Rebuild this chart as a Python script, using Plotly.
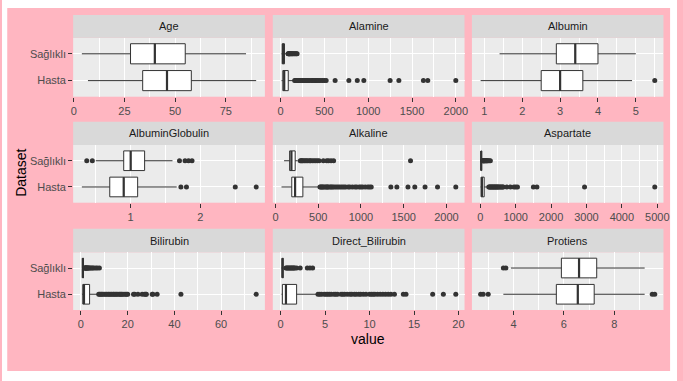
import plotly.graph_objects as go

# ---------------- data ----------------
facets = ["Age", "Alamine", "Albumin", "AlbuminGlobulin", "Alkaline",
          "Aspartate", "Bilirubin", "Direct_Bilirubin", "Protiens"]
groups = ["Hasta", "Sağlıklı"]
group_pos = [1, 2]

# Hasta box statistics, one value per facet
hasta_lower = [7, 10, 0.9, 0.3, 70, 10, 0.4, 0.1, 3.6]
hasta_q1 = [34, 25, 2.5, 0.7, 190, 26, 0.8, 0.2, 5.7]
hasta_median = [46, 41, 3.0, 0.9, 229, 45, 1.3, 0.6, 6.55]
hasta_q3 = [58, 87, 3.6, 1.1, 320, 110, 3.7, 1.8, 7.2]
hasta_upper = [90, 150, 4.9, 1.66, 510, 230, 7.3, 4.0, 9.2]

# Sağlıklı box statistics, one value per facet
saglikli_lower = [4, 10, 1.4, 0.5, 100, 10, 0.5, 0.1, 3.9]
saglikli_q1 = [28, 19, 2.9, 0.9, 165, 20, 0.7, 0.2, 5.9]
saglikli_median = [40, 27, 3.4, 1.0, 186, 26, 0.8, 0.2, 6.6]
saglikli_q3 = [55, 44, 4.0, 1.2, 230, 37, 1.1, 0.3, 7.3]
saglikli_upper = [85, 80, 5.0, 1.6, 260, 60, 1.6, 0.5, 9.2]

# outliers per facet
hasta_outliers = [
    [],
    [160, 170, 180, 190, 200, 210, 220, 230, 245, 260, 275, 290, 300, 315,
     330, 350, 365, 380, 395, 410, 425, 440, 460, 480, 500, 520,
     622, 779, 875, 950, 1250, 1350, 1630, 1680, 2000],
    [5.5],
    [1.72, 1.8, 2.5, 2.8],
    [520, 530, 540, 550, 560, 575, 590, 600, 610, 620, 640, 650, 665, 680,
     700, 720, 740, 760, 780, 800, 820, 850, 870, 900, 930, 950, 980, 1000,
     1020, 1050, 1080, 1100, 1120, 1350, 1420, 1550, 1630, 1750, 1896, 2110],
    [240, 260, 280, 300, 320, 340, 360, 380, 400, 420, 440, 460, 480, 500,
     520, 550, 575, 600, 630, 650, 750, 850, 950, 1000, 1050, 1500, 1600,
     2946, 4929],
    [7.6, 8.0, 8.5, 8.9, 9.4, 10.0, 10.6, 11.1, 11.7, 12.2, 12.7, 13.2, 13.8,
     14.2, 14.8, 15.2, 15.8, 16.4, 16.9, 17.3, 17.7, 18.4, 19.0, 19.6, 20.0,
     22.5, 23.0, 24.4, 26.2, 27.2, 27.7, 28.0, 30.5, 30.8, 32.6, 42.8, 75.0],
    [4.2, 4.4, 4.6, 4.9, 5.1, 5.3, 5.5, 5.7, 6.0, 6.2, 6.4, 6.8, 7.0, 7.2,
     7.5, 7.8, 8.0, 8.3, 8.5, 8.8, 9.0, 9.3, 9.6, 10.0, 10.2, 10.4, 10.6,
     10.9, 11.2, 11.5, 11.8, 12.1, 12.4, 12.8, 13.8, 14.1, 17.1, 18.3, 19.7],
    [2.7, 2.8, 3.0, 9.5, 9.6],
]
saglikli_outliers = [
    [],
    [85, 90, 95, 100, 105, 110, 118, 125, 132, 140, 150, 160, 170, 180, 188],
    [],
    [0.37, 0.45, 1.7, 1.78, 1.83, 1.88],
    [290, 300, 310, 320, 335, 350, 365, 380, 400, 410, 430, 450, 470, 490,
     510, 560, 600, 620, 650, 680, 1580],
    [65, 75, 85, 95, 105, 115, 125, 140, 155, 170, 185, 200, 220, 250, 285],
    [1.7, 1.8, 1.9, 2.0, 2.2, 2.4, 2.6, 2.8, 3.0, 3.3, 3.6, 4.0, 4.5, 5.0,
     5.5, 6.3, 7.0, 7.9],
    [0.6, 0.7, 0.8, 0.9, 1.0, 1.1, 1.2, 1.3, 1.4, 1.5, 1.6, 1.8, 2.2, 3.0,
     3.3, 3.6],
    [3.6, 3.7],
]

x_dticks = [25, 500, 1, 1, 500, 1000, 20, 5, 2]

# ---------------- layout geometry (pixels) ----------------
W, H = 683, 381
col_px = [(72, 266), (274, 468), (475.5, 669.3)]
row_px = [(37.7, 96.7), (145, 202.7), (252.3, 310)]
strip_px = [(15, 37.7), (121.7, 145), (228.7, 252.3)]

PINK = "#FFB6C1"
DARK = "#333333"
TICKCOL = "#4D4D4D"
FONT = "Liberation Sans, Arial, sans-serif"


def px_x(v):
    return v / W


def px_y(v):
    return 1 - v / H


fig = go.Figure()
shapes = []
annotations = []
layout_axes = {}
half_w = 0.375

for i, name in enumerate(facets):
    r, c = divmod(i, 3)
    n = i + 1
    xa = "x" if n == 1 else f"x{n}"
    ya = "y" if n == 1 else f"y{n}"

    lower = [hasta_lower[i], saglikli_lower[i]]
    q1 = [hasta_q1[i], saglikli_q1[i]]
    med = [hasta_median[i], saglikli_median[i]]
    q3 = [hasta_q3[i], saglikli_q3[i]]
    upper = [hasta_upper[i], saglikli_upper[i]]
    outs = [hasta_outliers[i], saglikli_outliers[i]]

    fig.add_trace(go.Box(
        orientation="h", y=group_pos, q1=q1, median=med, q3=q3,
        lowerfence=lower, upperfence=upper, width=0.75,
        fillcolor="white", line=dict(color=DARK, width=1),
        whiskerwidth=0, boxpoints=False, xaxis=xa, yaxis=ya,
        hoverinfo="skip"))

    # thicker median line (ggplot fatten)
    mx, my = [], []
    for p, m in zip(group_pos, med):
        mx += [m, m, None]
        my += [p - half_w, p + half_w, None]
    fig.add_trace(go.Scatter(x=mx, y=my, mode="lines",
                             line=dict(color=DARK, width=2.2),
                             xaxis=xa, yaxis=ya, hoverinfo="skip"))

    ox, oy = [], []
    for p, o in zip(group_pos, outs):
        ox += o
        oy += [p] * len(o)
    fig.add_trace(go.Scatter(x=ox, y=oy, mode="markers",
                             marker=dict(color=DARK, size=5),
                             xaxis=xa, yaxis=ya, hoverinfo="skip"))

    allv = lower + upper + outs[0] + outs[1]
    lo, hi = min(allv), max(allv)
    pad = 0.05 * (hi - lo)

    x0, x1 = col_px[c]
    t0, t1 = row_px[r]
    s0, s1 = strip_px[r]
    dt = x_dticks[i]

    layout_axes["xaxis" if n == 1 else f"xaxis{n}"] = dict(
        domain=[px_x(x0), px_x(x1)], anchor=ya, range=[lo - pad, hi + pad],
        tick0=0, dtick=dt, showgrid=True, gridcolor="white", gridwidth=1.1,
        zeroline=False, showline=False, ticks="outside", ticklen=4,
        tickwidth=1, tickcolor=DARK,
        tickfont=dict(family=FONT, size=11, color=TICKCOL),
        minor=dict(tick0=dt / 2, dtick=dt, showgrid=True, gridcolor="white",
                   gridwidth=0.55, ticks=""),
        fixedrange=True)
    layout_axes["yaxis" if n == 1 else f"yaxis{n}"] = dict(
        domain=[px_y(t1), px_y(t0)], anchor=xa, range=[0.4, 2.6],
        tickmode="array", tickvals=group_pos, ticktext=groups,
        showgrid=True, gridcolor="white", gridwidth=1.1, zeroline=False,
        showline=False, ticks="outside" if c == 0 else "",
        ticklen=4, tickwidth=1, tickcolor=DARK, showticklabels=(c == 0),
        tickfont=dict(family=FONT, size=11, color=TICKCOL), fixedrange=True)

    # strip
    shapes.append(dict(type="rect", xref="paper", yref="paper",
                       x0=px_x(x0), x1=px_x(x1), y0=px_y(s1), y1=px_y(s0),
                       fillcolor="#D9D9D9", line=dict(width=0), layer="below"))
    annotations.append(dict(text=name, xref="paper", yref="paper",
                            x=px_x((x0 + x1) / 2), y=px_y((s0 + s1) / 2),
                            xanchor="center", yanchor="middle", showarrow=False,
                            font=dict(family=FONT, size=11, color="#1A1A1A")))

# white border around the pink plot background
for bx0, by0, bx1, by1 in [(0, 0, 5.3, H), (676, 0, W, H), (0, 0, W, 8), (0, 371, W, H)]:
    shapes.append(dict(type="rect", xref="paper", yref="paper",
                       x0=px_x(bx0), x1=px_x(bx1), y0=px_y(by1), y1=px_y(by0),
                       fillcolor="white", line=dict(width=0), layer="above"))

annotations.append(dict(text="value", xref="paper", yref="paper",
                        x=px_x(370.5), y=px_y(338.5), xanchor="center",
                        yanchor="middle", showarrow=False,
                        font=dict(family=FONT, size=14, color="black")))
annotations.append(dict(text="Dataset", xref="paper", yref="paper",
                        x=px_x(19), y=px_y(173), xanchor="center",
                        yanchor="middle", showarrow=False, textangle=-90,
                        font=dict(family=FONT, size=14, color="black")))

fig.update_layout(width=W, height=H, margin=dict(l=0, r=0, t=0, b=0),
                  paper_bgcolor=PINK, plot_bgcolor="#EBEBEB",
                  showlegend=False, shapes=shapes, annotations=annotations,
                  **layout_axes)

fig.write_html("out.html", config={"displayModeBar": False},
               post_script="document.body.style.margin='0px';"
                           "document.body.style.overflow='hidden';")
